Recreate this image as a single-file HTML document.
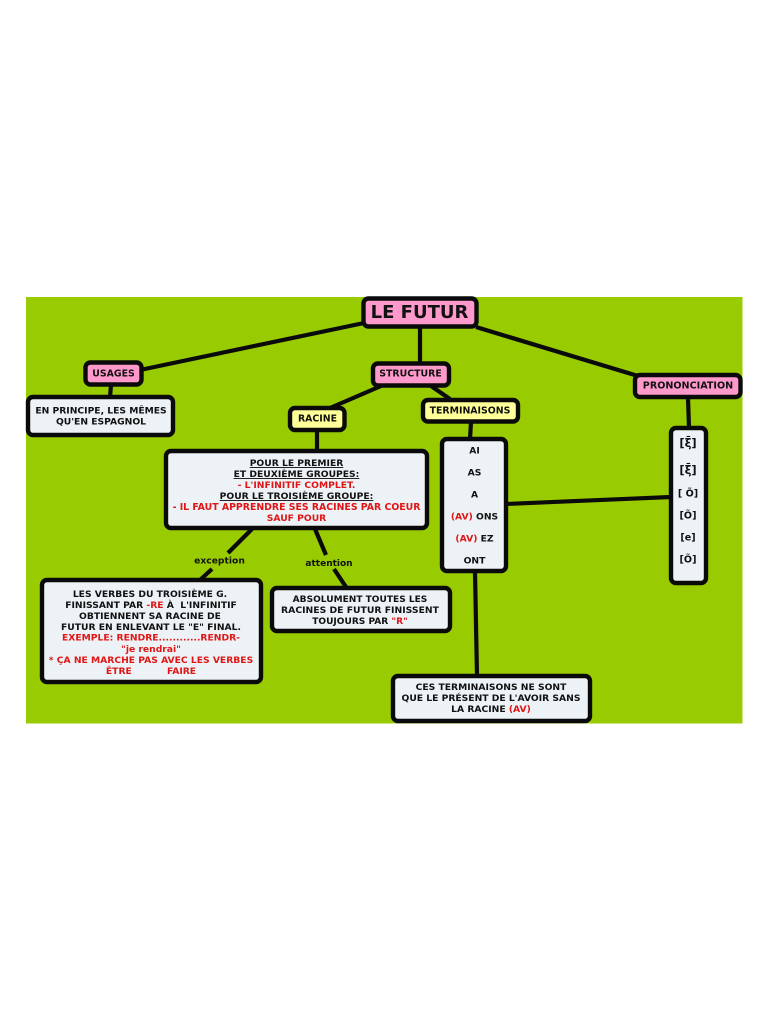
<!DOCTYPE html>
<html lang="fr">
<head>
<meta charset="utf-8">
<title>Le futur</title>
<style>
html,body{margin:0;padding:0;background:#fff;width:768px;height:1021px;overflow:hidden}
svg{display:block}
text{font-family:"DejaVu Sans",sans-serif;font-weight:700;font-size:9.2px;text-anchor:middle;fill:#111}
.l{font-size:9.4px}
.r{fill:#e01515}
.u{text-decoration:underline}
.b{fill:#ecf2f6;stroke:#0a0a0a;stroke-width:4.4}
.p{fill:#ff99cc;stroke:#0a0a0a;stroke-width:4.4}
.y{fill:#ffff99;stroke:#0a0a0a;stroke-width:4.4}
line{stroke:#0a0a0a;stroke-width:4.2}
#all{filter:blur(0.3px)}
</style>
</head>
<body>
<svg width="768" height="1021" viewBox="0 0 768 1021" xmlns="http://www.w3.org/2000/svg">
<g id="all">
<rect x="26" y="297" width="716.5" height="426.5" fill="#99cc00"/>

<line x1="364" y1="323" x2="140" y2="370"/>
<line x1="420" y1="326" x2="420" y2="364"/>
<line x1="476" y1="327" x2="638" y2="376"/>
<line x1="111" y1="385" x2="110" y2="397"/>
<line x1="381" y1="386" x2="330" y2="408"/>
<line x1="431" y1="386" x2="450" y2="399"/>
<line x1="317" y1="431" x2="317" y2="451"/>
<line x1="471" y1="422" x2="470" y2="439"/>
<line x1="688" y1="398" x2="689" y2="428"/>
<line x1="506" y1="504" x2="671" y2="497"/>
<line x1="475" y1="572" x2="477" y2="676"/>
<line x1="252" y1="529" x2="228" y2="553"/>
<line x1="212" y1="569" x2="200" y2="580"/>
<line x1="315" y1="529" x2="326" y2="555"/>
<line x1="334" y1="569" x2="346" y2="587"/>

<rect class="p" x="363.5" y="298.5" width="113" height="28" rx="5"/>
<rect class="p" x="85.5" y="362.5" width="56" height="22" rx="5"/>
<rect class="p" x="373" y="363.5" width="76" height="22" rx="5"/>
<rect class="p" x="635" y="375" width="105.5" height="22" rx="5"/>
<rect class="y" x="290" y="408" width="54.5" height="22" rx="5"/>
<rect class="y" x="423" y="400" width="95" height="21.5" rx="5"/>
<rect class="b" x="28" y="397" width="145" height="38" rx="5"/>
<rect class="b" x="166" y="451" width="261" height="77" rx="5"/>
<rect class="b" x="442" y="439" width="64" height="132" rx="5"/>
<rect class="b" x="671" y="428" width="35" height="155" rx="5"/>
<rect class="b" x="42" y="580" width="219" height="102" rx="5"/>
<rect class="b" x="272" y="588" width="178" height="43" rx="5"/>
<rect class="b" x="393" y="676" width="197" height="45" rx="5"/>

<text x="419.5" y="318" style="font-size:18px">LE FUTUR</text>
<text class="l" x="113.5" y="376.5">USAGES</text>
<text class="l" x="410.5" y="376.5">STRUCTURE</text>
<text class="l" x="688" y="388.5" style="font-size:9.6px">PRONONCIATION</text>
<text class="l" x="317.5" y="421.5">RACINE</text>
<text class="l" x="470" y="413.5">TERMINAISONS</text>

<text x="101" y="413.5">EN PRINCIPE, LES MÊMES</text>
<text x="101" y="424.5">QU'EN ESPAGNOL</text>

<text x="296.5" y="466" class="u">POUR LE PREMIER</text>
<text x="296.5" y="477" class="u">ET DEUXIÈME GROUPES:</text>
<text x="296.5" y="488" class="r">- L'INFINITIF COMPLET.</text>
<text x="296.5" y="499" class="u">POUR LE TROISIÈME GROUPE:</text>
<text x="296.5" y="510" class="r" style="font-size:9.35px">- IL FAUT APPRENDRE SES RACINES PAR COEUR</text>
<text x="296.5" y="521" class="r">SAUF POUR</text>

<text x="474.5" y="453.5">AI</text>
<text x="474.5" y="475.5">AS</text>
<text x="474.5" y="497.5">A</text>
<text x="474.5" y="519.5"><tspan class="r">(AV)</tspan> ONS</text>
<text x="474.5" y="541.5"><tspan class="r">(AV)</tspan> EZ</text>
<text x="474.5" y="563.5">ONT</text>

<text x="688" y="447" style="font-size:11.5px">[ξ̄]</text>
<text x="688" y="474" style="font-size:11.5px">[ξ̄]</text>
<text x="688" y="496.5" style="font-size:9.6px">[ Õ]</text>
<text x="688" y="518.5" style="font-size:9.6px">[Õ]</text>
<text x="688" y="540.5" style="font-size:9.6px">[e]</text>
<text x="688" y="562.5" style="font-size:9.6px">[Õ]</text>

<text x="219.5" y="563.5">exception</text>
<text x="329" y="566" style="font-size:9px">attention</text>

<text x="150" y="597">LES VERBES DU TROISIÈME G.</text>
<text x="151" y="608">FINISSANT PAR <tspan class="r">-RE</tspan> À&#160; L'INFINITIF</text>
<text x="150" y="619">OBTIENNENT SA RACINE DE</text>
<text x="151" y="630">FUTUR EN ENLEVANT LE "E" FINAL.</text>
<text x="151" y="640.5" class="r">EXEMPLE: RENDRE............RENDR-</text>
<text x="151" y="652" class="r">"je rendrai"</text>
<text x="151" y="663" class="r">* ÇA NE MARCHE PAS AVEC LES VERBES</text>
<text x="151" y="674" class="r">ÊTRE&#160;&#160;&#160;&#160;&#160;&#160;&#160;&#160;&#160;&#160;&#160;FAIRE</text>

<text x="360" y="602" style="font-size:9.05px">ABSOLUMENT TOUTES LES</text>
<text x="360" y="613" style="font-size:9.25px">RACINES DE FUTUR FINISSENT</text>
<text x="360" y="624" style="font-size:9.05px">TOUJOURS PAR <tspan class="r">"R"</tspan></text>

<text x="491" y="690">CES TERMINAISONS NE SONT</text>
<text x="491" y="701">QUE LE PRÉSENT DE L'AVOIR SANS</text>
<text x="491" y="712">LA RACINE <tspan class="r">(AV)</tspan></text>
</g>
</svg>
</body>
</html>
